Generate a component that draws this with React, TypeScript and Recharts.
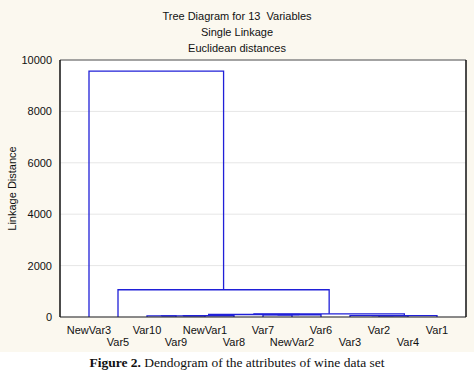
import { ComposedChart, Line, XAxis, YAxis, CartesianGrid } from 'recharts';

// leaf order along the bottom of the tree
const leaves = ['NewVar3', 'Var5', 'Var10', 'Var9', 'NewVar1', 'Var8', 'Var7', 'NewVar2', 'Var6', 'Var3', 'Var2', 'Var4', 'Var1'];

// joins in order; "mK" refers to the cluster made by join K
const joinLeft = ['Var10', 'm0', 'm1', 'Var2', 'Var3', 'm4', 'Var7', 'm6', 'm2', 'm8', 'Var5', 'NewVar3'];
const joinRight = ['Var9', 'NewVar1', 'Var8', 'Var4', 'm3', 'Var1', 'NewVar2', 'Var6', 'm7', 'm5', 'm9', 'm10'];
const joinHeight = [40, 44, 48, 45, 50, 55, 80, 88, 98, 125, 1060, 9570];

const yTicks = [0, 2000, 4000, 6000, 8000, 10000];
const yMinorTicks = [0, 1000, 2000, 3000, 4000, 5000, 6000, 7000, 8000, 9000, 10000];
const leafTicks = leaves.map((_, i) => i + 1);

const font = '"Liberation Sans", Arial, sans-serif';
const blue = '#2020d8';

// build the bracket for every join (x = leaf slot, y = linkage distance)
const clusters: { x: number; y: number }[] = [];
const nodeOf = (name: string) =>
  name.startsWith('m') ? clusters[Number(name.slice(1))] : { x: leaves.indexOf(name) + 1, y: 0 };

const links = joinHeight.map((h, i) => {
  const a = nodeOf(joinLeft[i]);
  const b = nodeOf(joinRight[i]);
  clusters[i] = { x: (a.x + b.x) / 2, y: h };
  return [
    { x: a.x, y: a.y },
    { x: a.x, y: h },
    { x: b.x, y: h },
    { x: b.x, y: b.y },
  ];
});

const LeafTick = (props: any) => {
  const { x, y, payload } = props;
  const idx = payload.value - 1;
  return (
    <text x={x} y={y} dy={idx % 2 === 0 ? 9 : 21} textAnchor="middle" fontSize={11} fontFamily={font} fill="#111">
      {leaves[idx]}
    </text>
  );
};

const Empty = () => <g />;

export default function App() {
  return (
    <div style={{ width: 474, height: 371, position: 'relative', background: '#fff', margin: 0 }}>
      <style>{'body{margin:0}'}</style>
      <div style={{ position: 'absolute', left: 0, top: 0, width: 474, height: 352, background: '#fbf8ef' }} />
      <div
        style={{
          position: 'absolute',
          left: 0,
          top: 8,
          width: 474,
          textAlign: 'center',
          fontFamily: font,
          fontSize: 11,
          lineHeight: '16px',
          color: '#111',
          whiteSpace: 'pre',
        }}
      >
        {'Tree Diagram for 13  Variables\nSingle Linkage\nEuclidean distances'}
      </div>
      <div style={{ position: 'absolute', left: 0, top: 0 }}>
        <ComposedChart width={474} height={352} margin={{ top: 60, right: 8, left: 0, bottom: 0 }}>
          <CartesianGrid horizontal vertical={false} stroke="#e6e6e6" fill="#fff" />
          <XAxis
            dataKey="x"
            type="number"
            domain={[0, 14]}
            ticks={leafTicks}
            interval={0}
            height={35}
            tickLine={false}
            axisLine={{ stroke: '#222', strokeWidth: 1.2 }}
            tick={<LeafTick />}
          />
          <XAxis
            xAxisId="top"
            orientation="top"
            mirror
            type="number"
            domain={[0, 14]}
            ticks={leafTicks}
            interval={0}
            tickSize={4}
            axisLine={{ stroke: '#555' }}
            tickLine={{ stroke: '#222' }}
            tick={<Empty />}
          />
          <YAxis
            type="number"
            domain={[0, 10000]}
            ticks={yTicks}
            interval={0}
            width={60}
            tickLine={false}
            tickSize={6}
            axisLine={{ stroke: '#111', strokeWidth: 1.5 }}
            tick={{ fontSize: 11, fontFamily: font, fill: '#111' }}
            label={{ value: 'Linkage Distance', angle: -90, position: 'center', dx: -18, fontSize: 11, fontFamily: font, fill: '#111' }}
          />
          <YAxis
            yAxisId="inner"
            orientation="left"
            mirror
            type="number"
            domain={[0, 10000]}
            ticks={yMinorTicks}
            interval={0}
            tickSize={4}
            axisLine={false}
            tickLine={{ stroke: '#222' }}
            tick={<Empty />}
          />
          <YAxis
            yAxisId="right"
            orientation="right"
            mirror
            type="number"
            domain={[0, 10000]}
            ticks={yMinorTicks}
            interval={0}
            tickSize={4}
            axisLine={{ stroke: '#111', strokeWidth: 1.5 }}
            tickLine={{ stroke: '#222' }}
            tick={<Empty />}
          />
          {links.map((pts, i) => (
            <Line
              key={i}
              data={pts}
              dataKey="y"
              type="linear"
              stroke={blue}
              strokeWidth={1.3}
              dot={false}
              activeDot={false}
              isAnimationActive={false}
            />
          ))}
        </ComposedChart>
      </div>
      <div
        style={{
          position: 'absolute',
          left: 0,
          top: 355,
          width: 474,
          textAlign: 'center',
          fontFamily: '"Liberation Serif", "Times New Roman", serif',
          fontSize: 13.5,
          lineHeight: '15px',
          color: '#111',
        }}
      >
        <b>Figure 2.</b> Dendogram of the attributes of wine data set
      </div>
    </div>
  );
}
